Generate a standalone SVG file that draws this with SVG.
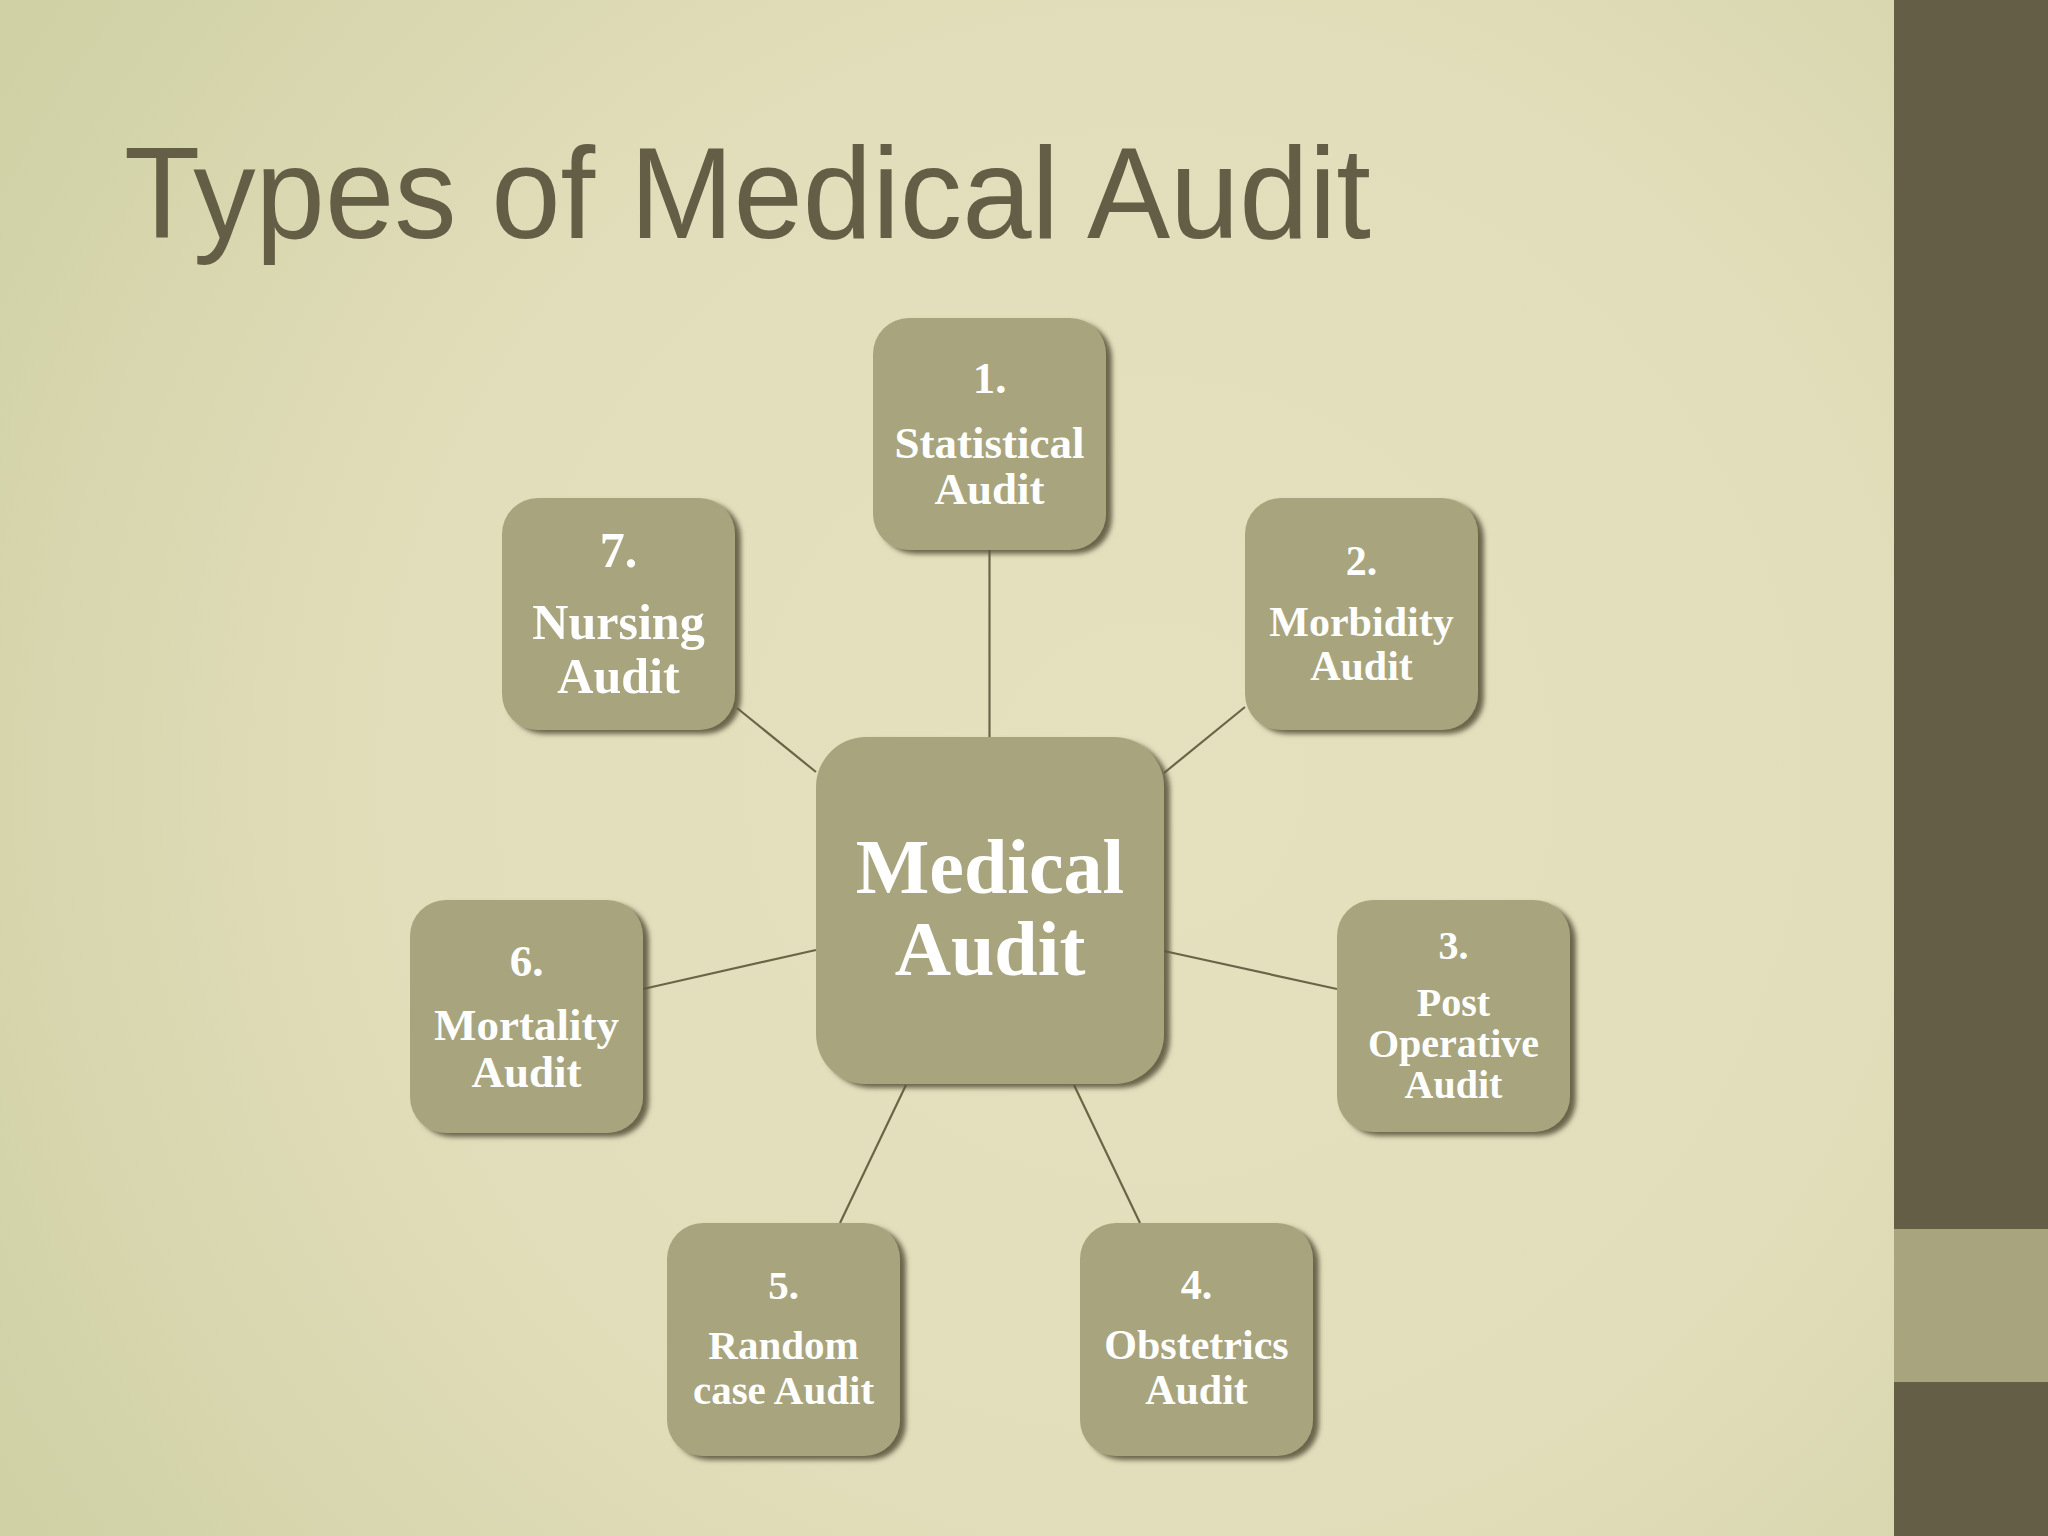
<svg xmlns="http://www.w3.org/2000/svg" width="2048" height="1536" viewBox="0 0 2048 1536">
<defs>
<radialGradient id="bg" cx="1150" cy="780" r="1350" gradientUnits="userSpaceOnUse">
<stop offset="0" stop-color="#e5e1bf"/>
<stop offset="0.55" stop-color="#e2debb"/>
<stop offset="1" stop-color="#d0d1a5"/>
</radialGradient>
<filter id="sh" x="-10%" y="-10%" width="125%" height="125%">
<feGaussianBlur in="SourceAlpha" stdDeviation="2.5" result="b"/>
<feOffset in="b" dx="6" dy="4" result="o"/>
<feFlood flood-color="#5d573f" flood-opacity="0.9"/>
<feComposite in2="o" operator="in" result="s"/>
<feMerge><feMergeNode in="s"/><feMergeNode in="SourceGraphic"/></feMerge>
</filter>
<style>
.node{fill:#a8a57e;filter:url(#sh)}
.t{font-family:"Liberation Serif","Times New Roman",serif;font-weight:bold;fill:#ffffff;text-anchor:middle}
.c{stroke:#6b6548;stroke-width:2.2;fill:none}
</style>
</defs>
<rect x="0" y="0" width="1894" height="1536" fill="url(#bg)"/>
<rect x="1894" y="0" width="154" height="1536" fill="#655e46"/>
<rect x="1894" y="1229" width="154" height="153" fill="#a8a57e"/>
<text x="124" y="238" font-family="'Liberation Sans',Arial,sans-serif" font-size="130" fill="#655e46" textLength="1247" lengthAdjust="spacingAndGlyphs">Types of Medical Audit</text>
<g id="connectors">
<line class="c" x1="989.5" y1="550" x2="989.5" y2="737"/>
<line class="c" x1="737" y1="708" x2="816" y2="772"/>
<line class="c" x1="1245" y1="707" x2="1164" y2="773"/>
<line class="c" x1="643" y1="989" x2="816" y2="950"/>
<line class="c" x1="1164" y1="951" x2="1337" y2="989"/>
<line class="c" x1="906" y1="1085" x2="840" y2="1223"/>
<line class="c" x1="1074" y1="1085" x2="1140" y2="1223"/>
</g>
<g id="center">
<rect class="node" x="816" y="737" width="348" height="347" rx="50"/>
<text class="t" x="990" y="893" font-size="78">Medical</text>
<text class="t" x="990" y="975" font-size="78">Audit</text>
</g>
<g id="n1">
<rect class="node" x="873" y="318" width="233" height="232" rx="36"/>
<text class="t" x="989.5" y="393" font-size="45">1.</text>
<text class="t" x="989.5" y="458" font-size="45">Statistical</text>
<text class="t" x="989.5" y="504" font-size="45">Audit</text>
</g>
<g id="n2">
<rect class="node" x="1245" y="498" width="233" height="232" rx="36"/>
<text class="t" x="1361.5" y="575" font-size="42">2.</text>
<text class="t" x="1361.5" y="636" font-size="42">Morbidity</text>
<text class="t" x="1361.5" y="680" font-size="42">Audit</text>
</g>
<g id="n3">
<rect class="node" x="1337" y="900" width="233" height="232" rx="36"/>
<text class="t" x="1453.5" y="959" font-size="40">3.</text>
<text class="t" x="1453.5" y="1016" font-size="40">Post</text>
<text class="t" x="1453.5" y="1057" font-size="40">Operative</text>
<text class="t" x="1453.5" y="1098" font-size="40">Audit</text>
</g>
<g id="n4">
<rect class="node" x="1080" y="1223" width="233" height="233" rx="36"/>
<text class="t" x="1196.5" y="1299" font-size="42">4.</text>
<text class="t" x="1196.5" y="1359" font-size="42">Obstetrics</text>
<text class="t" x="1196.5" y="1404" font-size="42">Audit</text>
</g>
<g id="n5">
<rect class="node" x="667" y="1223" width="233" height="233" rx="36"/>
<text class="t" x="783.5" y="1299" font-size="41">5.</text>
<text class="t" x="783.5" y="1359" font-size="41">Random</text>
<text class="t" x="783.5" y="1404" font-size="41">case Audit</text>
</g>
<g id="n6">
<rect class="node" x="410" y="900" width="233" height="233" rx="36"/>
<text class="t" x="526.5" y="976" font-size="45">6.</text>
<text class="t" x="526.5" y="1040" font-size="45">Mortality</text>
<text class="t" x="526.5" y="1087" font-size="45">Audit</text>
</g>
<g id="n7">
<rect class="node" x="502" y="498" width="233" height="232" rx="36"/>
<text class="t" x="618.5" y="567" font-size="50">7.</text>
<text class="t" x="618.5" y="639" font-size="50">Nursing</text>
<text class="t" x="618.5" y="693" font-size="50">Audit</text>
</g>
</svg>
